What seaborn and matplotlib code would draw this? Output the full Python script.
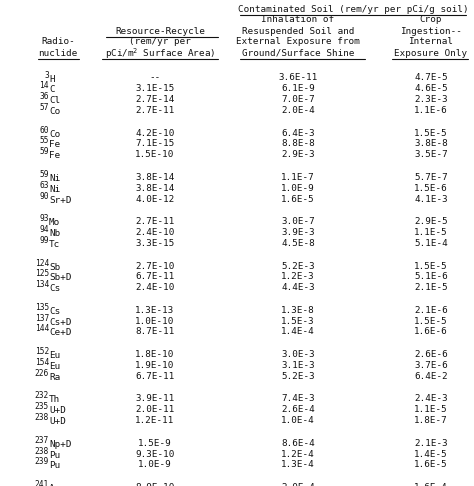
import matplotlib
matplotlib.use("Agg")
import matplotlib.pyplot as plt
import seaborn as sns

sns.set_theme(style="white")
plt.rcParams['font.family'] = ['DejaVu Sans Mono']

mass = ["3","14","36","57","60","55","59","59","63","90","93","94","99",
        "124","125","134","135","137","144","152","154","226","232","235","238",
        "237","238","239","241"]
symbol = ["H","C","Cl","Co","Co","Fe","Fe","Ni","Ni","Sr+D","Mo","Nb","Tc",
          "Sb","Sb+D","Cs","Cs","Cs+D","Ce+D","Eu","Eu","Ra","Th","U+D","U+D",
          "Np+D","Pu","Pu","Am"]
group = [0,0,0,0,1,1,1,2,2,2,3,3,3,4,4,4,5,5,5,6,6,6,7,7,7,8,8,8,9]
recycle = ["--","3.1E-15","2.7E-14","2.7E-11","4.2E-10","7.1E-15","1.5E-10",
           "3.8E-14","3.8E-14","4.0E-12","2.7E-11","2.4E-10","3.3E-15",
           "2.7E-10","6.7E-11","2.4E-10","1.3E-13","1.0E-10","8.7E-11",
           "1.8E-10","1.9E-10","6.7E-11","3.9E-11","2.0E-11","1.2E-11",
           "1.5E-9","9.3E-10","1.0E-9","8.9E-10"]
inhal = ["3.6E-11","6.1E-9","7.0E-7","2.0E-4","6.4E-3","8.8E-8","2.9E-3",
         "1.1E-7","1.0E-9","1.6E-5","3.0E-7","3.9E-3","4.5E-8",
         "5.2E-3","1.2E-3","4.4E-3","1.3E-8","1.5E-3","1.4E-4",
         "3.0E-3","3.1E-3","5.2E-3","7.4E-3","2.6E-4","1.0E-4",
         "8.6E-4","1.2E-4","1.3E-4","2.0E-4"]
crop = ["4.7E-5","4.6E-5","2.3E-3","1.1E-6","1.5E-5","3.8E-8","3.5E-7",
        "5.7E-7","1.5E-6","4.1E-3","2.9E-5","1.1E-5","5.1E-4",
        "1.5E-5","5.1E-6","2.1E-5","2.1E-6","1.5E-5","1.6E-6",
        "2.6E-6","3.7E-6","6.4E-2","2.4E-3","1.1E-5","1.8E-7",
        "2.1E-3","1.4E-5","1.6E-5","1.6E-4"]

fig = plt.figure(figsize=(4.74, 4.86), dpi=100)
ax = fig.add_axes([0, 0, 1, 1])
ax.set_xlim(0, 474)
ax.set_ylim(486, 0)
ax.axis("off")

fs = 6.7
col = "#111111"
kw = dict(fontsize=fs, color=col, va="center")

# headers
ax.text(353, 9, "Contaminated Soil (rem/yr per pCi/g soil)", ha="center", **kw)
ax.plot([240, 466], [15.5, 15.5], color=col, lw=0.8)
for i, t in enumerate(["Inhalation of", "Resuspended Soil and",
                       "External Exposure from", "Ground/Surface Shine"]):
    ax.text(298, 20 + i * 11, t, ha="center", **kw)
ax.plot([240, 365], [59, 59], color=col, lw=0.8)
for i, t in enumerate(["Crop", "Ingestion--", "Internal", "Exposure Only"]):
    ax.text(431, 20 + i * 11, t, ha="center", **kw)
ax.plot([392, 468], [59, 59], color=col, lw=0.8)
ax.text(160, 31, "Resource-Recycle", ha="center", **kw)
ax.plot([106, 218], [37, 37], color=col, lw=0.8)
ax.text(160, 42, "(rem/yr per", ha="center", **kw)
ax.text(160, 54, r"pCi/m$^2$ Surface Area)", ha="center", **kw)
ax.plot([102, 218], [59, 59], color=col, lw=0.8)
ax.text(58, 42, "Radio-", ha="center", **kw)
ax.text(58, 53, "nuclide", ha="center", **kw)
ax.plot([38, 79], [59, 59], color=col, lw=0.8)

# rows
y0, dy, gap = 78, 10.8, 11.9
for i in range(len(mass)):
    y = y0 + i * dy + group[i] * gap
    ax.text(49, y - 3, mass[i], ha="right", fontsize=fs * 0.85, color=col, va="center")
    ax.text(49, y + 1, symbol[i], ha="left", **kw)
    ax.text(155, y, recycle[i], ha="center", **kw)
    ax.text(298, y, inhal[i], ha="center", **kw)
    ax.text(431, y, crop[i], ha="center", **kw)

fig.savefig("out.png", dpi=100, facecolor="white")
